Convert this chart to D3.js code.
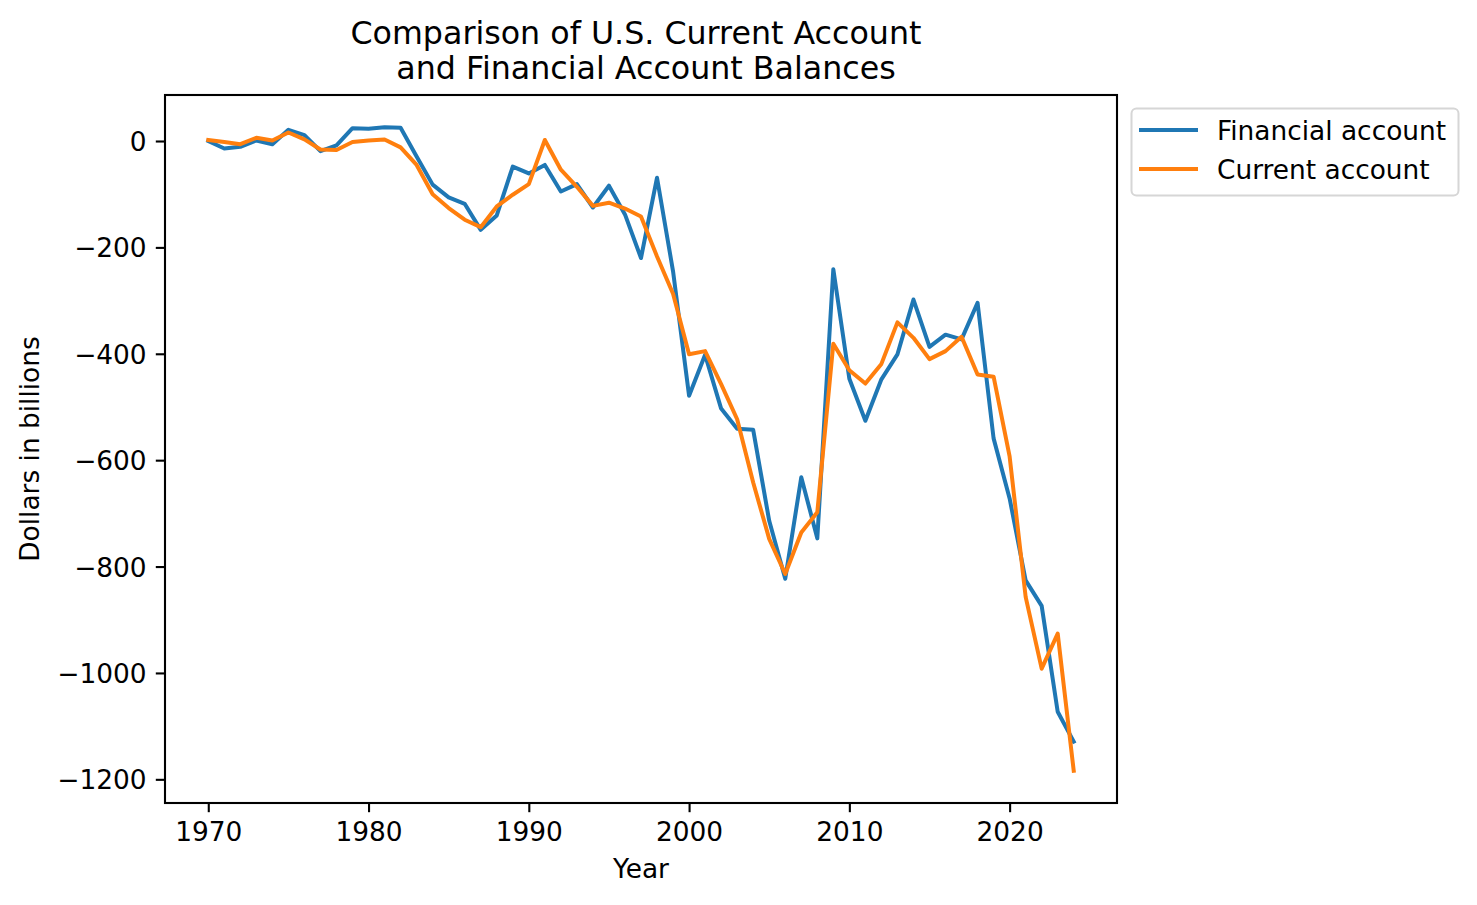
<!DOCTYPE html>
<html>
<head>
<meta charset="utf-8">
<script src="https://cdn.jsdelivr.net/npm/d3@7"></script>
<style>
  body { margin: 0; background: #ffffff; }
  text { font-family: "DejaVu Sans", sans-serif; fill: #000000; }
</style>
</head>
<body>
<div id="plot"></div>
<script>
// Data (billions of dollars)
var years = d3.range(1970, 2025);

var financialAccount = [
    0, -14, -11, 1, -6, 21, 11, -19, -8, 24,
    23, 26, 25, -29, -82, -106, -118, -167, -140, -48,
    -61, -45, -95, -81, -125, -84, -138, -220, -69, -245,
    -479, -402, -503, -541, -543, -714, -823, -632, -747, -241,
    -447, -526, -448, -401, -298, -387, -364, -373, -304, -559,
    -672, -826, -874, -1073, -1129
];

var currentAccount = [
    2, -2, -6, 6, 1, 16, 3, -16, -17, -2,
    1, 3, -12, -45, -100, -126, -148, -162, -123, -101,
    -81, 2, -54, -86, -122, -116, -127, -142, -217, -287,
    -401, -395, -457, -523, -642, -748, -814, -736, -698, -381,
    -431, -456, -419, -341, -370, -410, -395, -368, -439, -443,
    -593, -857, -992, -926, -1184
];

var seriesNames = ["Financial account", "Current account"];
var seriesColours = ["#1f77b4", "#ff7f0e"];
var xTicks = [1970, 1980, 1990, 2000, 2010, 2020];
var yTicks = [0, -200, -400, -600, -800, -1000, -1200];

var titleLines = ["Comparison of U.S. Current Account ", " and Financial Account Balances"];

// Layout
var width = 1477;
var height = 905;
var plotLeft = 165, plotRight = 1117, plotTop = 95, plotBottom = 803;
var fontSize = 26.4;
var tickLen = 9.2;
var pad = 9.2;

var svg = d3
    .select("#plot")
    .append("svg")
    .attr("width", width)
    .attr("height", height);

// Matplotlib-style 5% margins
var xMin = d3.min(years), xMax = d3.max(years);
var xm = (xMax - xMin) * 0.05;
var allVals = financialAccount.concat(currentAccount);
var yMin = d3.min(allVals), yMax = d3.max(allVals);
var ym = (yMax - yMin) * 0.05;

var x = d3.scaleLinear().domain([xMin - xm, xMax + xm]).range([plotLeft, plotRight]);
var y = d3.scaleLinear().domain([yMin - ym, yMax + ym]).range([plotBottom, plotTop]);

var minus = function(v) {
    return d3.format("d")(v).replace("-", "\u2212");
};

// Axes
var xAxis = d3.axisBottom(x).tickValues(xTicks).tickSize(tickLen).tickPadding(pad).tickFormat(d3.format("d"));
var yAxis = d3.axisLeft(y).tickValues(yTicks).tickSize(tickLen).tickPadding(pad).tickFormat(minus);

var gx = svg.append("g").attr("transform", "translate(0," + plotBottom + ")").call(xAxis);
var gy = svg.append("g").attr("transform", "translate(" + plotLeft + ",0)").call(yAxis);

[gx, gy].forEach(function(g) {
    g.select(".domain").remove();
    g.selectAll(".tick line").attr("stroke", "#000").attr("stroke-width", 2.1);
    g.selectAll(".tick text")
        .style("font-family", "DejaVu Sans")
        .style("font-size", fontSize + "px")
        .attr("fill", "#000");
});
gx.selectAll(".tick text").attr("dy", "0.76em");
gy.selectAll(".tick text").attr("dy", "0.36em");

// Lines
var series = [financialAccount, currentAccount];
var line = d3.line()
    .x(function(d, i) { return x(years[i]); })
    .y(function(d) { return y(d); });

svg.append("g")
    .selectAll("path")
    .data(series)
    .enter()
    .append("path")
    .attr("d", line)
    .attr("fill", "none")
    .attr("stroke", function(d, i) { return seriesColours[i]; })
    .attr("stroke-width", 4)
    .attr("stroke-linejoin", "round")
    .attr("stroke-linecap", "square");

// Frame
svg.append("rect")
    .attr("x", plotLeft)
    .attr("y", plotTop)
    .attr("width", plotRight - plotLeft)
    .attr("height", plotBottom - plotTop)
    .attr("fill", "none")
    .attr("stroke", "#000")
    .attr("stroke-width", 2.1);

// Title
svg.append("g")
    .selectAll("text")
    .data(titleLines)
    .enter()
    .append("text")
    .attr("x", (plotLeft + plotRight) / 2)
    .attr("y", function(d, i) { return 43.5 + i * 35.5; })
    .attr("text-anchor", "middle")
    .style("white-space", "pre")
    .style("font-size", "31.7px")
    .text(function(d) { return d; });

// Axis labels
svg.append("text")
    .attr("x", (plotLeft + plotRight) / 2)
    .attr("y", 878)
    .attr("text-anchor", "middle")
    .style("font-size", fontSize + "px")
    .text("Year");

svg.append("text")
    .attr("transform", "translate(38.5," + (plotTop + plotBottom) / 2 + ") rotate(-90)")
    .attr("text-anchor", "middle")
    .style("font-size", fontSize + "px")
    .text("Dollars in billions");

// Legend
var legend = svg.append("g").attr("transform", "translate(1131,108)");

legend.append("rect")
    .attr("x", 0.5)
    .attr("y", 0.5)
    .attr("width", 327)
    .attr("height", 87)
    .attr("rx", 5)
    .attr("fill", "#ffffff")
    .attr("fill-opacity", 0.8)
    .attr("stroke", "#d6d6d6")
    .attr("stroke-width", 2);

var items = legend.selectAll("g.item")
    .data(seriesNames)
    .enter()
    .append("g")
    .attr("class", "item")
    .attr("transform", function(d, i) { return "translate(0," + (22 + i * 39) + ")"; });

items.append("line")
    .attr("x1", 8)
    .attr("x2", 67)
    .attr("stroke", function(d, i) { return seriesColours[i]; })
    .attr("stroke-width", 4);

items.append("text")
    .attr("x", 86)
    .attr("dy", "0.36em")
    .style("font-size", fontSize + "px")
    .text(function(d) { return d; });
</script>
</body>
</html>
